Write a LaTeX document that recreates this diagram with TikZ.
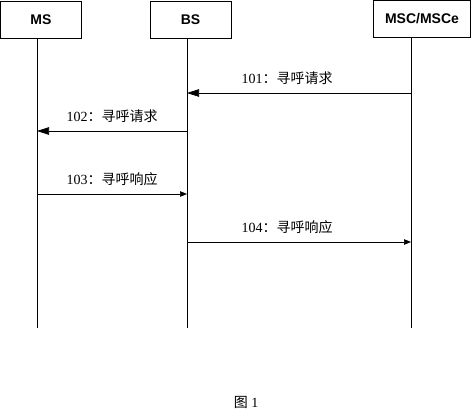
\documentclass[tikz,border=0pt]{standalone}
\usepackage{fontspec}
\setmainfont{Liberation Serif}
\newfontfamily\cjk{Noto Sans CJK SC}
\newfontfamily\entfont{Liberation Sans}
\usetikzlibrary{arrows.meta}

\tikzset{
  entity/.style = {draw, line width = 0.9pt, minimum height = 37pt,
    font = \entfont\bfseries\fontsize{14}{16}\selectfont},
  life/.style = {line width = 0.7pt},
  msg/.style = {line width = 0.7pt},
  big/.style = {-{Triangle[length = 12pt, width = 7.5pt]}},
  small/.style = {-{Triangle[length = 7pt, width = 5.5pt]}},
  lbl/.style = {above = 5pt, font = \fontsize{14}{16}\selectfont}
}

\begin{document}
\begin{tikzpicture}[x = 1pt, y = -1pt]
  \useasboundingbox (0,0) rectangle (474,410);
  % entities
  \node[entity, minimum width = 81pt] (ms) at (41,19.5) {MS};
  \node[entity, minimum width = 81pt] (bs) at (190.5,19.5) {BS};
  \node[entity, minimum width = 97pt] (msc) at (422,19) {MSC/MSCe};
  % lifelines
  \coordinate (msl) at (37,38.5);
  \coordinate (bsl) at (187,38.5);
  \coordinate (mscl) at (411,37.5);
  \coordinate (msb) at (37,328);
  \coordinate (bsb) at (187,328);
  \coordinate (mscb) at (411,328);
  \draw[life]
  (msl) -- (msb)
  (bsl) -- (bsb)
  (mscl) -- (mscb);
  % messages
  \foreach \y/\from/\to/\tip/\dx/\num/\txt in {93/mscl/bsl/big/-12/101/寻呼请求,
    131/bsl/msl/big/0/102/寻呼请求, 194/msl/bsl/small/0/103/寻呼响应,
    242/bsl/mscl/small/-12/104/寻呼响应}
    \draw[msg, \tip] (\from |- 0,\y) -- node[lbl, xshift = \dx pt] {\num{\cjk ：\txt}} (\to |- 0,\y);
  \node[font = \fontsize{14}{16}\selectfont] (cap) at (246,402) {{\cjk 图} 1};
\end{tikzpicture}
\end{document}
